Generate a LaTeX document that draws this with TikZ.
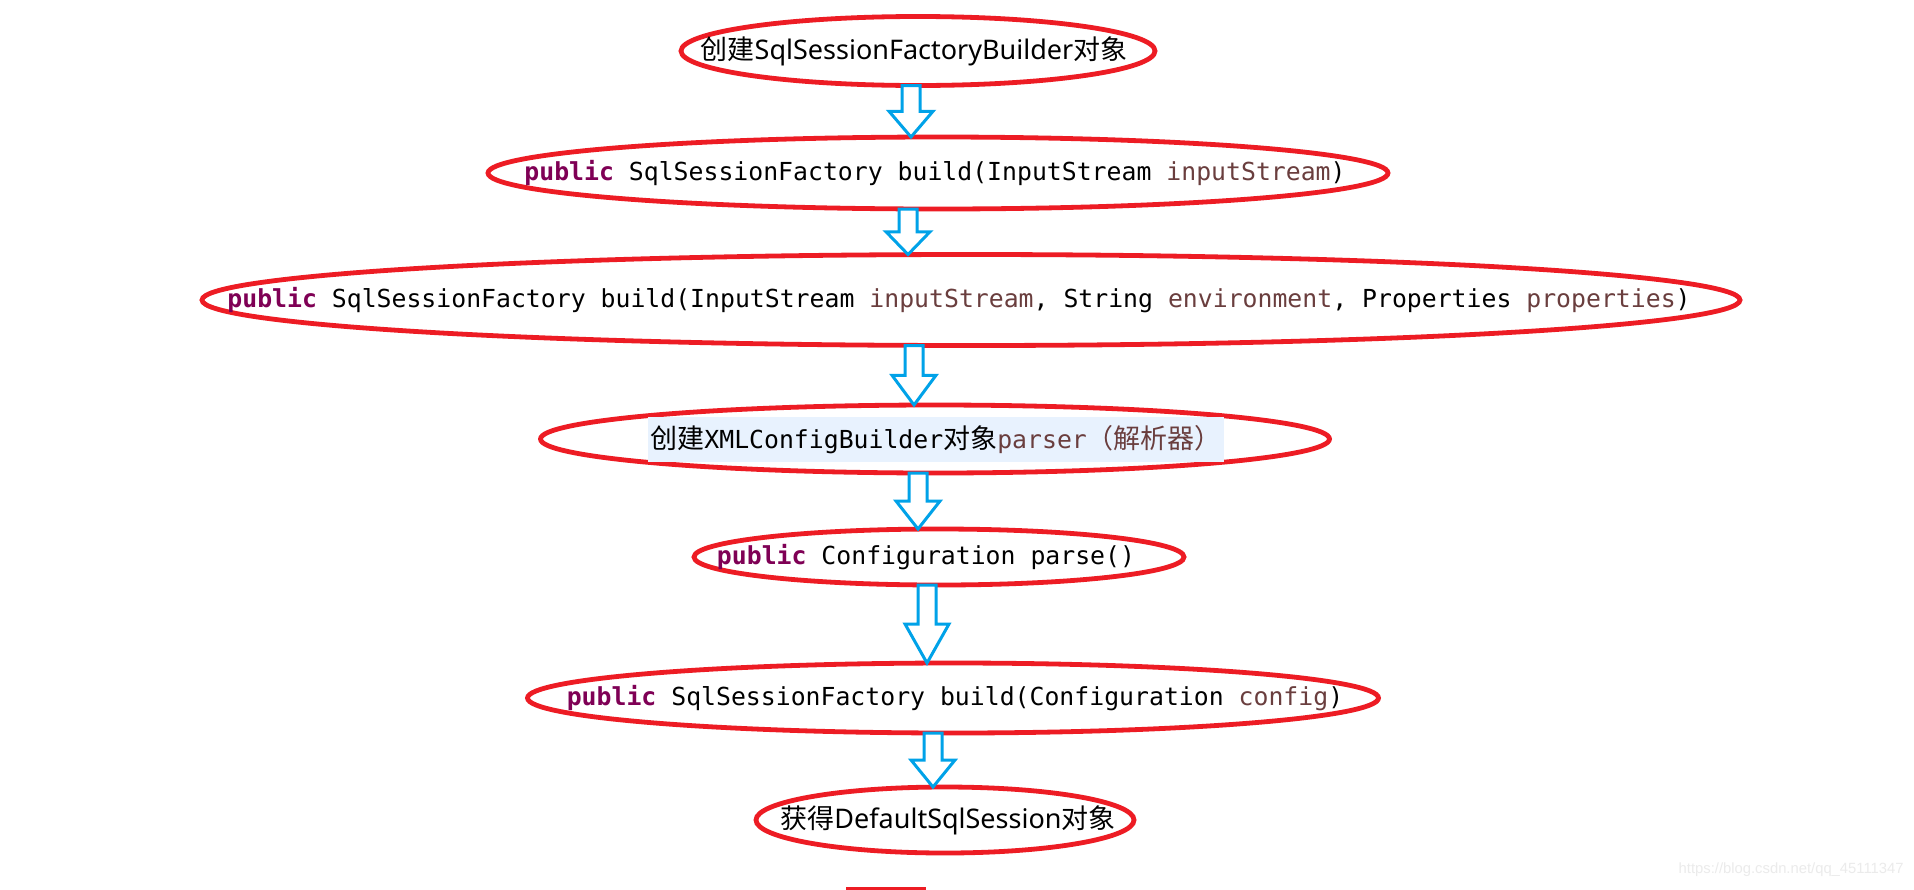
\documentclass[tikz,border=0pt]{standalone}
\usepackage{fontspec}
\setmainfont{Noto Sans}
\setmonofont{DejaVu Sans Mono}
\newfontfamily\cjk{Noto Sans CJK SC}
\newfontfamily\wmfont{Liberation Sans}
\usetikzlibrary{shapes.geometric,calc}
\definecolor{ovalred}{HTML}{ED1C24}
\definecolor{flowblue}{HTML}{00A2E8}
\definecolor{kwpurple}{HTML}{7F0055}
\definecolor{parambrown}{HTML}{6A3E3E}
\definecolor{markblue}{HTML}{E8F2FE}
\newcommand{\kw}[1]{\textbf{\color{kwpurple}#1}}
\newcommand{\param}[1]{{\color{parambrown}#1}}
\newcommand{\flowarrow}[3]{%
  \draw[flow] let \p1=(#1.south), \p2=(#2.north), \p3=(#3,0),
      \p4=($(#1.south)!0.5!(#2.north)$) in
    (\x3-4.5pt,\y1) -- (\x3+4.5pt,\y1) -- (\x3+4.5pt,\y4) -- (\x3+11pt,\y4)
    -- (\x3,\y2) -- (\x3-11pt,\y4) -- (\x3-4.5pt,\y4) -- cycle;}

\begin{document}
\begin{tikzpicture}[x=0.5pt, y=-0.5pt,
    stage/.style={ellipse, draw=ovalred, line width=2.4pt,
        inner sep=0pt, outer sep=0pt},
    code/.style={font=\ttfamily\fontsize{12.4}{15}\selectfont, inner sep=0pt},
    plain/.style={font=\fontsize{13.5}{16}\selectfont, inner sep=0pt},
    flow/.style={draw=flowblue, fill=white, line width=1.5pt}
]
    \fill[white] (0,0) rectangle (1914,889);
    \useasboundingbox (0,0) rectangle (1914,889);
    \node[stage, minimum width=237pt, minimum height=34.5pt] (s1) at (918,51) {};
    \node[stage, minimum width=450pt, minimum height=36pt] (s2) at (938,173) {};
    \node[stage, minimum width=769pt, minimum height=45.5pt] (s3) at (971,300) {};
    \node[stage, minimum width=394.5pt, minimum height=34pt] (s4) at (935,439) {};
    \node[stage, minimum width=245pt, minimum height=28pt] (s5) at (939,557) {};
    \node[stage, minimum width=425.5pt, minimum height=35pt] (s6) at (953,698) {};
    \node[stage, minimum width=189pt, minimum height=33pt] (s7) at (945,820) {};
    \node[plain] (t1) at (914,51) {{\cjk 创建}SqlSessionFactoryBuilder{\cjk 对象}};
    \node[code] (t2) at (935,173) {\kw{public} SqlSessionFactory build(InputStream \param{inputStream})};
    \node[code] (t3) at (959,300) {\kw{public} SqlSessionFactory build(InputStream \param{inputStream}, String \param{environment}, Properties \param{properties})};
    \node[code, anchor=west, fill=markblue, inner xsep=1pt,
        minimum height=22.5pt] (t4) at (648,439.5)
        {{\cjk\fontsize{13.5}{16}\selectfont 创建}XMLConfigBuilder{\cjk\fontsize{13.5}{16}\selectfont 对象}\param{parser{\cjk\fontsize{13.5}{16}\selectfont （解析器）}}\hspace{7pt}};
    \node[code] (t5) at (926,557) {\kw{public} Configuration parse()};
    \node[code] (t6) at (955,698) {\kw{public} SqlSessionFactory build(Configuration \param{config})};
    \node[plain] (t7) at (948,820) {{\cjk 获得}DefaultSqlSession{\cjk 对象}};
    \flowarrow{s1}{s2}{911}
    \flowarrow{s2}{s3}{908}
    \flowarrow{s3}{s4}{914}
    \flowarrow{s4}{s5}{918}
    \flowarrow{s5}{s6}{927}
    \flowarrow{s6}{s7}{933}
    \draw[ovalred, line width=1.5pt] (846,888) -- (926,888);
    \node[font=\wmfont\fontsize{7.4}{9}\selectfont, text=black!8, anchor=east,
        inner sep=0pt] (mark) at (1904,870) {https://blog.csdn.net/qq\_45111347};
\end{tikzpicture}
\end{document}
